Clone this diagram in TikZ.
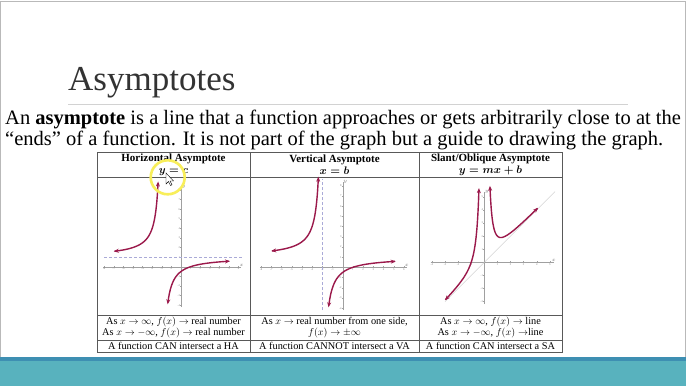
\documentclass[tikz,border=0pt]{standalone}
\usepackage{fontspec}
\usepackage{bm}
\setmainfont{Liberation Serif}
\usetikzlibrary{arrows.meta}
\definecolor{curvered}{RGB}{155,25,75}
\definecolor{asymline}{RGB}{170,170,215}
\definecolor{tealband}{RGB}{88,178,190}
\definecolor{tealstripe}{RGB}{62,143,178}
\definecolor{axisgray}{RGB}{160,160,160}
\definecolor{ringyellow}{RGB}{248,238,90}
\newcommand{\axes}[4]{% #1/#2 = x range, #3/#4 = y range (units of the scope)
  \draw[axis] (#1-0.1,0) -- (#2+0.3,0);
  \draw[axis] (0,#3-0.2) -- (0,#4+0.35);
  \foreach \i in {#1,...,#2} {\ifnum\i=0\else
    \draw[axis] (\i,-0.08) -- (\i,0.08);
    \node[tick, below] at (\i,-0.05) {\i};\fi}
  \foreach \j in {#3,...,#4} {\ifnum\j=0\else
    \draw[axis] (-0.08,\j) -- (0.08,\j);
    \node[tick, left] at (-0.05,\j) {\j};\fi}
  \node[tick, above] at (#2+0.3,0) {$x$};
  \node[tick, right] at (0,#4+0.35) {$y$};}

\begin{document}
\begin{tikzpicture}[
  x=1pt, y=-1pt,
  >={Stealth[length=5pt, width=4pt]},
  axis/.style={draw=axisgray, line width=0.35pt},
  tick/.style={font=\fontsize{2.8}{3}\selectfont, text=gray, inner sep=0.4pt},
  curve/.style={draw=curvered, line width=1.4pt, <->},
  asym/.style={draw=asymline, line width=0.8pt, dash pattern=on 3pt off 2pt},
  tablerule/.style={draw=black!65, line width=0.6pt},
  head/.style={font=\fontsize{11}{12}\selectfont\bfseries\boldmath, align=center, inner sep=0pt},
  cell/.style={font=\fontsize{10.3}{11.5}\selectfont, align=center, inner sep=0pt},
]
  \useasboundingbox (0,0) rectangle (686,386);
  \fill[white] (0,0) rectangle (686,386);
  \draw[gray!55, line width=1pt] (0.5,1) rectangle (685.5,357);

  % ---------------- title and definition
  \node[anchor=base west, font=\fontsize{35}{40}\selectfont, text=black!80, inner sep=0pt] (title) at (68,90) {Asymptotes};
  \draw[gray!35, line width=0.8pt] (68,104) -- (628,104);
  \node[anchor=base west, font=\fontsize{20.5}{24}\selectfont, inner sep=0pt] (def1) at (5,124)
    {An \textbf{asymptote} is a line that a function approaches or gets arbitrarily close to at the};
  \node[anchor=base west, font=\fontsize{20.5}{24}\selectfont, inner sep=0pt] (def2) at (5,145)
    {“ends” of a function. It is not part of the graph but a guide to drawing the graph.};

  % ---------------- table
  \draw[tablerule] (97,152) rectangle (562,352);
  \foreach \y in {177,315,340} \draw[tablerule] (97,\y) -- (562,\y);
  \foreach \x in {250,419} \draw[tablerule] (\x,152) -- (\x,352);

  \node[head] (hHA) at (173.5,164.5) {Horizontal Asymptote\\$\bm{y = c}$};
  \node[head] (hVA) at (334.5,164.5) {Vertical Asymptote\\$\bm{x = b}$};
  \node[head] (hSA) at (490.5,164.5) {Slant/Oblique Asymptote\\$\bm{y = mx + b}$};

  \node[cell] (rHA) at (173.5,327.5) {As $x\to\infty$, $f(x)\to$ real number\\As $x\to-\infty$, $f(x)\to$ real number};
  \node[cell] (rVA) at (334.5,327.5) {As $x\to$ real number from one side,\\$f(x)\to\pm\infty$};
  \node[cell] (rSA) at (490.5,327.5) {As $x\to\infty$, $f(x)\to$ line\\As $x\to-\infty$, $f(x)\to$line};

  \node[cell] (cHA) at (173.5,346) {A function CAN intersect a HA};
  \node[cell] (cVA) at (334.5,346) {A function CANNOT intersect a VA};
  \node[cell] (cSA) at (490.5,346) {A function CAN intersect a SA};

  % ---------------- horizontal asymptote graph
  \begin{scope}[shift={(181,266.7)}, x=9.6pt, y=9.6pt]
    \axes{-8}{6}{-4}{8}
    \draw[asym] (-8,1) -- (6.4,1);
    \draw[curve] plot[domain=-7:-2.38, samples=60, smooth, variable=\t] (\t,{1-3/(\t+2)});
    \draw[curve] plot[domain=-1.39:5.1, samples=60, smooth, variable=\t] (\t,{1-3/(\t+2)});
  \end{scope}

  % ---------------- vertical asymptote graph
  \begin{scope}[shift={(342.7,267.3)}, x=10.2pt, y=10.2pt]
    \axes{-8}{6}{-4}{8}
    \draw[asym] (-2,-4.2) -- (-2,8.65);
    \draw[curve] plot[domain=-7:-2.38, samples=60, smooth, variable=\t] (\t,{1-3/(\t+2)});
    \draw[curve] plot[domain=-1.39:5.2, samples=60, smooth, variable=\t] (\t,{1-3/(\t+2)});
  \end{scope}

  % ---------------- slant asymptote graph
  \begin{scope}[shift={(484.3,262.3)}, x=13.1pt, y=13.1pt]
    \axes{-4}{5}{-3}{5}
    \draw[gray!45, line width=0.5pt] (-3,-3) -- (5.4,5.4);
    \draw[curve] plot[domain=-3:-0.405, samples=80, smooth, variable=\t] (\t,{\t+1/(\t*\t)});
    \draw[curve] plot[domain=0.43:4.1, samples=80, smooth, variable=\t] (\t,{\t+1/(\t*\t)});
  \end{scope}

  % ---------------- pointer highlight
  \draw[ringyellow, line width=2.6pt] (167.7,177.3) circle (17);
  \draw[fill=white, line width=0.4pt] (166,173) -- (166,184) -- (168.5,181.5) -- (170.5,185.5) -- (172,184.8) -- (170,181) -- (173.5,181) -- cycle;

  % ---------------- footer band
  \fill[tealband] (0,357) rectangle (686,386);
  \fill[tealstripe] (0,357) rectangle (686,361);
\end{tikzpicture}
\end{document}
